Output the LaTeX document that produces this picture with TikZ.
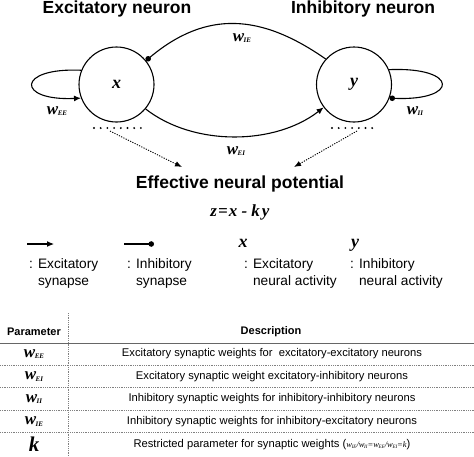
\documentclass[tikz,border=0pt]{standalone}
\usepackage{fontspec}
\setmainfont{Liberation Sans}
\newfontfamily\tnr{Liberation Serif}
\usetikzlibrary{arrows.meta,calc}
\newcommand{\wlab}[1]{{\tnr\bfseries\itshape\fontsize{17}{17}\selectfont w\kern-0.5pt\raisebox{-1.2pt}{\fontsize{7}{7}\selectfont #1}}}
\newcommand{\sw}[1]{w\kern-0.3pt\raisebox{-0.8pt}{\fontsize{5}{5}\selectfont #1}}
\begin{document}
\begin{tikzpicture}[x=1pt,y=1pt,
  neuron/.style={circle,draw,line width=1.1pt,minimum size=75pt,inner sep=0pt},
  syn/.style={line width=1.1pt},
  exc/.style={syn,-{Latex[length=7pt,width=6pt]}},
  inh/.style={syn,-{Circle[length=5.5pt]}},
  ttl/.style={font=\fontsize{17.5}{18}\selectfont\bfseries},
  var/.style={font=\tnr\bfseries\itshape\fontsize{18}{18}\selectfont},
  lbl/.style={inner sep=0pt},
  dotrow/.style={line width=2.1pt,dash pattern=on 0pt off 6.7pt,line cap=round},
  dotarrow/.style={line width=0.9pt,dash pattern=on 1.2pt off 1.3pt,-{Latex[length=7pt,width=5.5pt]}},
  legtxt/.style={font=\fontsize{13.7}{17}\selectfont,align=left,anchor=north west,inner sep=0pt},
  hdr/.style={font=\fontsize{11}{12}\selectfont\bfseries},
  desc/.style={font=\fontsize{11.2}{12}\selectfont},
  tline/.style={gray,line width=0.6pt,dash pattern=on 0.9pt off 0.9pt},
  tsolid/.style={gray!80!black,line width=1pt}]
\useasboundingbox (0,0) rectangle (474,-456);

% titles
\node[ttl] (tex) at (117,-9) {Excitatory neuron};
\node[ttl] (tin) at (363,-9) {Inhibitory neuron};

% neurons
\node[neuron] (cx) at (116.5,-84.5) {};
\node[var] (lx) at (cx) {x};
\node[neuron] (cy) at (354,-84.5) {};
\node[var] (ly) at (cy) {y};

% connections
\draw[inh] (cy.138) to[out=145,in=40,looseness=1.12] (cx.39);
\draw[exc] (cx.-40) to[out=-38,in=-142,looseness=0.88] (cy.-143);
\draw[exc] (cx.158) .. controls +(-65,3) and +(-65,-3) .. (cx.-159);
\draw[inh] (cy.23) .. controls +(70,3) and +(70,-3) .. (cy.-21);

% weight labels
\node[lbl] (wee) at (57,-111) {\wlab{EE}};
\node[lbl] (wii) at (415,-111) {\wlab{II}};
\node[lbl] (wie) at (242,-38) {\wlab{IE}};
\node[lbl] (wei) at (236,-151) {\wlab{EI}};

% dotted rows and arrows
\coordinate (d1a) at (94,-128);
\coordinate (d1b) at (141,-128);
\coordinate (d2a) at (332,-128);
\coordinate (d2b) at (378.5,-128);
\draw[dotrow] (d1a) -- (d1b);
\draw[dotrow] (d2a) -- (d2b);
\coordinate (s1) at (110,-131);
\coordinate (s2) at (357,-131);
\coordinate (t1) at (182,-167);
\coordinate (t2) at (294,-167);
\draw[dotarrow] (s1) -- (t1);
\draw[dotarrow] (s2) -- (t2);

\node[ttl] (eff) at (240,-184) {Effective neural potential};
\node[font=\tnr\bfseries\itshape\fontsize{17}{17}\selectfont] (zeq) at (240,-212) {z\kern1pt=\kern1pt x - k\kern2pt y};

% legend
\coordinate (la1) at (27,-244);
\coordinate (la2) at (54,-244);
\coordinate (lb1) at (124,-244);
\coordinate (lb2) at (154,-244);
\draw[exc] (la1) -- (la2);
\draw[inh] (lb1) -- (lb2);
\node[var] (lgx) at (243,-243) {x};
\node[var] (lgy) at (355,-245) {y};
\node[legtxt] (lt1) at (29,-258) {: Excitatory\\\phantom{: }synapse};
\node[legtxt] (lt2) at (127,-258) {: Inhibitory\\\phantom{: }synapse};
\node[legtxt] (lt3) at (244,-258) {: Excitatory\\\phantom{: }neural activity};
\node[legtxt] (lt4) at (350,-258) {: Inhibitory\\\phantom{: }neural activity};

% table
\draw[tline] (68,-313) -- (68,-456);
\draw[tsolid] (0,-343) -- (474,-343);
\foreach \yy in {365,387.5,410,432.5} \draw[tline] (0,-\yy) -- (474,-\yy);
\node[hdr] (hp) at (34,-332) {Parameter};
\node[hdr] (hd) at (271,-332) {Description};

\node[lbl] (p1) at (34,-354) {\wlab{EE}};
\node[lbl] (p2) at (34,-376.5) {\wlab{EI}};
\node[lbl] (p3) at (34,-399) {\wlab{II}};
\node[lbl] (p4) at (34,-421.5) {\wlab{IE}};
\node[lbl,font=\tnr\bfseries\itshape\fontsize{21}{21}\selectfont] (p5) at (34,-444.5) {k};

\node[desc] (r1) at (272,-354) {Excitatory synaptic weights for\ \ excitatory-excitatory neurons};
\node[desc] (r2) at (272,-376.5) {Excitatory synaptic weight excitatory-inhibitory neurons};
\node[desc] (r3) at (272,-399) {Inhibitory synaptic weights for inhibitory-inhibitory neurons};
\node[desc] (r4) at (272,-421.5) {Inhibitory synaptic weights for inhibitory-excitatory neurons};
\node[desc] (r5) at (272,-444.5) {Restricted parameter for synaptic weights ({\tnr\itshape\fontsize{8.5}{9}\selectfont \sw{IE}/\sw{II}=\sw{EE}/\sw{EI}=k})};
\end{tikzpicture}
\end{document}
